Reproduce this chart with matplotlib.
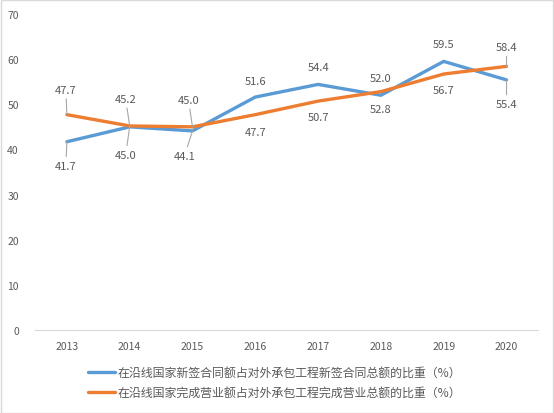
import matplotlib
matplotlib.use("Agg")
import matplotlib.pyplot as plt
from matplotlib.patches import Rectangle

plt.rcParams['font.family'] = ['Noto Sans CJK SC', 'DejaVu Sans']

years = ["2013", "2014", "2015", "2016", "2017", "2018", "2019", "2020"]
new_contract = [41.7, 45.0, 44.1, 51.6, 54.4, 52.0, 59.5, 55.4]
turnover = [47.7, 45.2, 45.0, 47.7, 50.7, 52.8, 56.7, 58.4]
label_new = "在沿线国家新签合同额占对外承包工程新签合同总额的比重（%）"
label_turn = "在沿线国家完成营业额占对外承包工程完成营业总额的比重（%）"

# label offsets in pixels (dx, dy) and whether a leader line is drawn
new_offsets = [(-1, -24), (-4, -28), (-8, -25), (0, 16), (0, 17), (0, 17), (0, 17), (0, -24)]
turn_offsets = [(-1, 25), (-4, 27), (-4, 27), (0, -17), (0, -16), (0, -17), (0, -16), (0, 19)]
leaders = [True, True, True, False, False, False, False, True]

blue = "#5B9BD5"
orange = "#ED7D31"
grey = "#595959"

fig = plt.figure(figsize=(5.54, 4.14), dpi=100)
ax = fig.add_axes([0.064, 0.2005, 0.907, 0.7633])

x = range(len(years))
ax.plot(x, new_contract, color=blue, lw=2.4, label=label_new, solid_capstyle="round")
ax.plot(x, turnover, color=orange, lw=2.4, label=label_turn, solid_capstyle="round")

def add_labels(values, offsets):
    for i, v in enumerate(values):
        dx, dy = offsets[i]
        props = None
        if leaders[i]:
            props = dict(arrowstyle="-", color="#A6A6A6", lw=0.8, shrinkA=1, shrinkB=0)
        ax.annotate(f"{v:.1f}", (i, v), xytext=(dx, dy), textcoords="offset pixels",
                    ha="center", va="center", fontsize=8, color=grey,
                    arrowprops=props)

add_labels(new_contract, new_offsets)
add_labels(turnover, turn_offsets)

ax.set_xlim(-0.5, len(years) - 0.5)
ax.set_ylim(0, 70)
ax.set_yticks(range(0, 71, 10))
ax.set_xticks(list(x))
ax.set_xticklabels(years)
ax.tick_params(axis="both", length=0, labelsize=7.5, labelcolor=grey)
ax.tick_params(axis="y", pad=12)
ax.tick_params(axis="x", pad=8)
for s in ["top", "right", "left"]:
    ax.spines[s].set_visible(False)
ax.spines["bottom"].set_color("#D9D9D9")
ax.spines["bottom"].set_linewidth(0.8)

fig.legend(loc="center", bbox_to_anchor=(0.496, 0.0735), ncol=1, frameon=False,
           fontsize=8.6, handlelength=2.2, handletextpad=0.25, labelspacing=0.6,
           labelcolor=grey)

fig.patches.append(Rectangle((0.001, 0.001), 0.997, 0.997, transform=fig.transFigure,
                             fill=False, edgecolor="#D9D9D9", lw=1))

fig.savefig("out.png", dpi=100)
